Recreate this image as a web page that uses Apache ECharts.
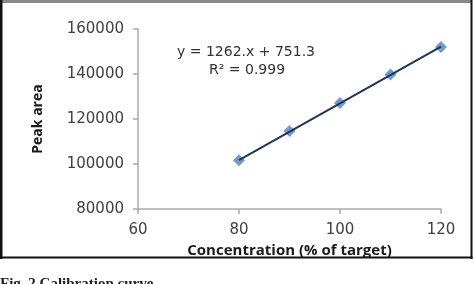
<!DOCTYPE html>
<html>
<head>
<meta charset="utf-8">
<script src="https://cdn.jsdelivr.net/npm/echarts@6/dist/echarts.min.js"></script>
<style>
  html, body { margin: 0; padding: 0; background: #fff; }
  #main { width: 474px; height: 284px; }
</style>
</head>
<body>
<div id="main"></div>
<script>
// concentration (% of target) vs peak area
const concentration = [80, 90, 100, 110, 120];
const peakArea = [101700, 114700, 127100, 139800, 152000];
// linear trendline endpoints
const trendX = [80, 120];
const trendY = [101711, 152191];
const equationText = 'y = 1262.x + 751.3';
const r2Text = 'R² = 0.999';

const chartDom = document.getElementById('main');
const myChart = echarts.init(chartDom, null, { renderer: 'canvas' });

const tickFont = { fontFamily: 'DejaVu Sans', fontSize: 15, color: '#404040' };

const option = {
  animation: false,
  backgroundColor: '#fff',
  grid: { left: 138, right: 33, top: 29, bottom: 75, containLabel: false },
  xAxis: {
    type: 'value',
    min: 60, max: 120, interval: 20,
    name: 'Concentration (% of target)',
    nameLocation: 'middle',
    nameGap: 29,
    nameTextStyle: { fontFamily: 'Open Sans', fontWeight: 'bold', fontSize: 15, color: '#1a1a1a' },
    axisLine: { lineStyle: { color: '#aaaaaa', width: 1.5 } },
    axisTick: { show: true, inside: false, length: 5, lineStyle: { color: '#aaaaaa', width: 1.5 } },
    axisLabel: Object.assign({ margin: 14, formatter: v => String(v) }, tickFont),
    splitLine: { show: false }
  },
  yAxis: {
    type: 'value',
    min: 80000, max: 160000, interval: 20000,
    name: 'Peak area',
    nameLocation: 'middle',
    nameGap: 93,
    nameRotate: 90,
    nameTextStyle: { fontFamily: 'Open Sans', fontWeight: 'bold', fontSize: 14, color: '#1a1a1a' },
    axisLine: { show: true, lineStyle: { color: '#aaaaaa', width: 1.5 } },
    axisTick: { show: true, inside: false, length: 5, lineStyle: { color: '#aaaaaa', width: 1.5 } },
    axisLabel: Object.assign({ margin: 14, formatter: v => String(v) }, tickFont),
    splitLine: { show: false }
  },
  series: [
    {
      name: 'Trend',
      type: 'line',
      data: trendX.map((x, i) => [x, trendY[i]]),
      showSymbol: false,
      symbol: 'none',
      lineStyle: { color: '#17375e', width: 2 },
      z: 3
    },
    {
      name: 'Peak area',
      type: 'scatter',
      data: concentration.map((x, i) => [x, peakArea[i]]),
      symbol: 'diamond',
      symbolSize: 12,
      itemStyle: { color: '#4f81bd' },
      z: 2
    }
  ],
  graphic: [
    { type: 'text', left: 177, top: 45, style: { text: equationText, font: '14px "DejaVu Sans"', fill: '#333' } },
    { type: 'text', left: 209, top: 63, style: { text: r2Text, font: '14px "DejaVu Sans"', fill: '#333' } },
    // frame around the figure
    { type: 'rect', shape: { x: 0, y: 0, width: 471, height: 3 }, style: { fill: '#8a8a8a' } },
    { type: 'rect', shape: { x: 0, y: 0, width: 2.5, height: 259 }, style: { fill: '#111' } },
    { type: 'rect', shape: { x: 470.5, y: 0, width: 2, height: 259 }, style: { fill: '#111' } },
    { type: 'rect', shape: { x: 0, y: 256.5, width: 472.5, height: 2 }, style: { fill: '#111' } },
    { type: 'text', left: 0, top: 277, style: { text: 'Fig. 2 Calibration curve', font: 'bold 15px "Liberation Serif"', fill: '#222' } }
  ]
};

option && myChart.setOption(option);
</script>
</body>
</html>
